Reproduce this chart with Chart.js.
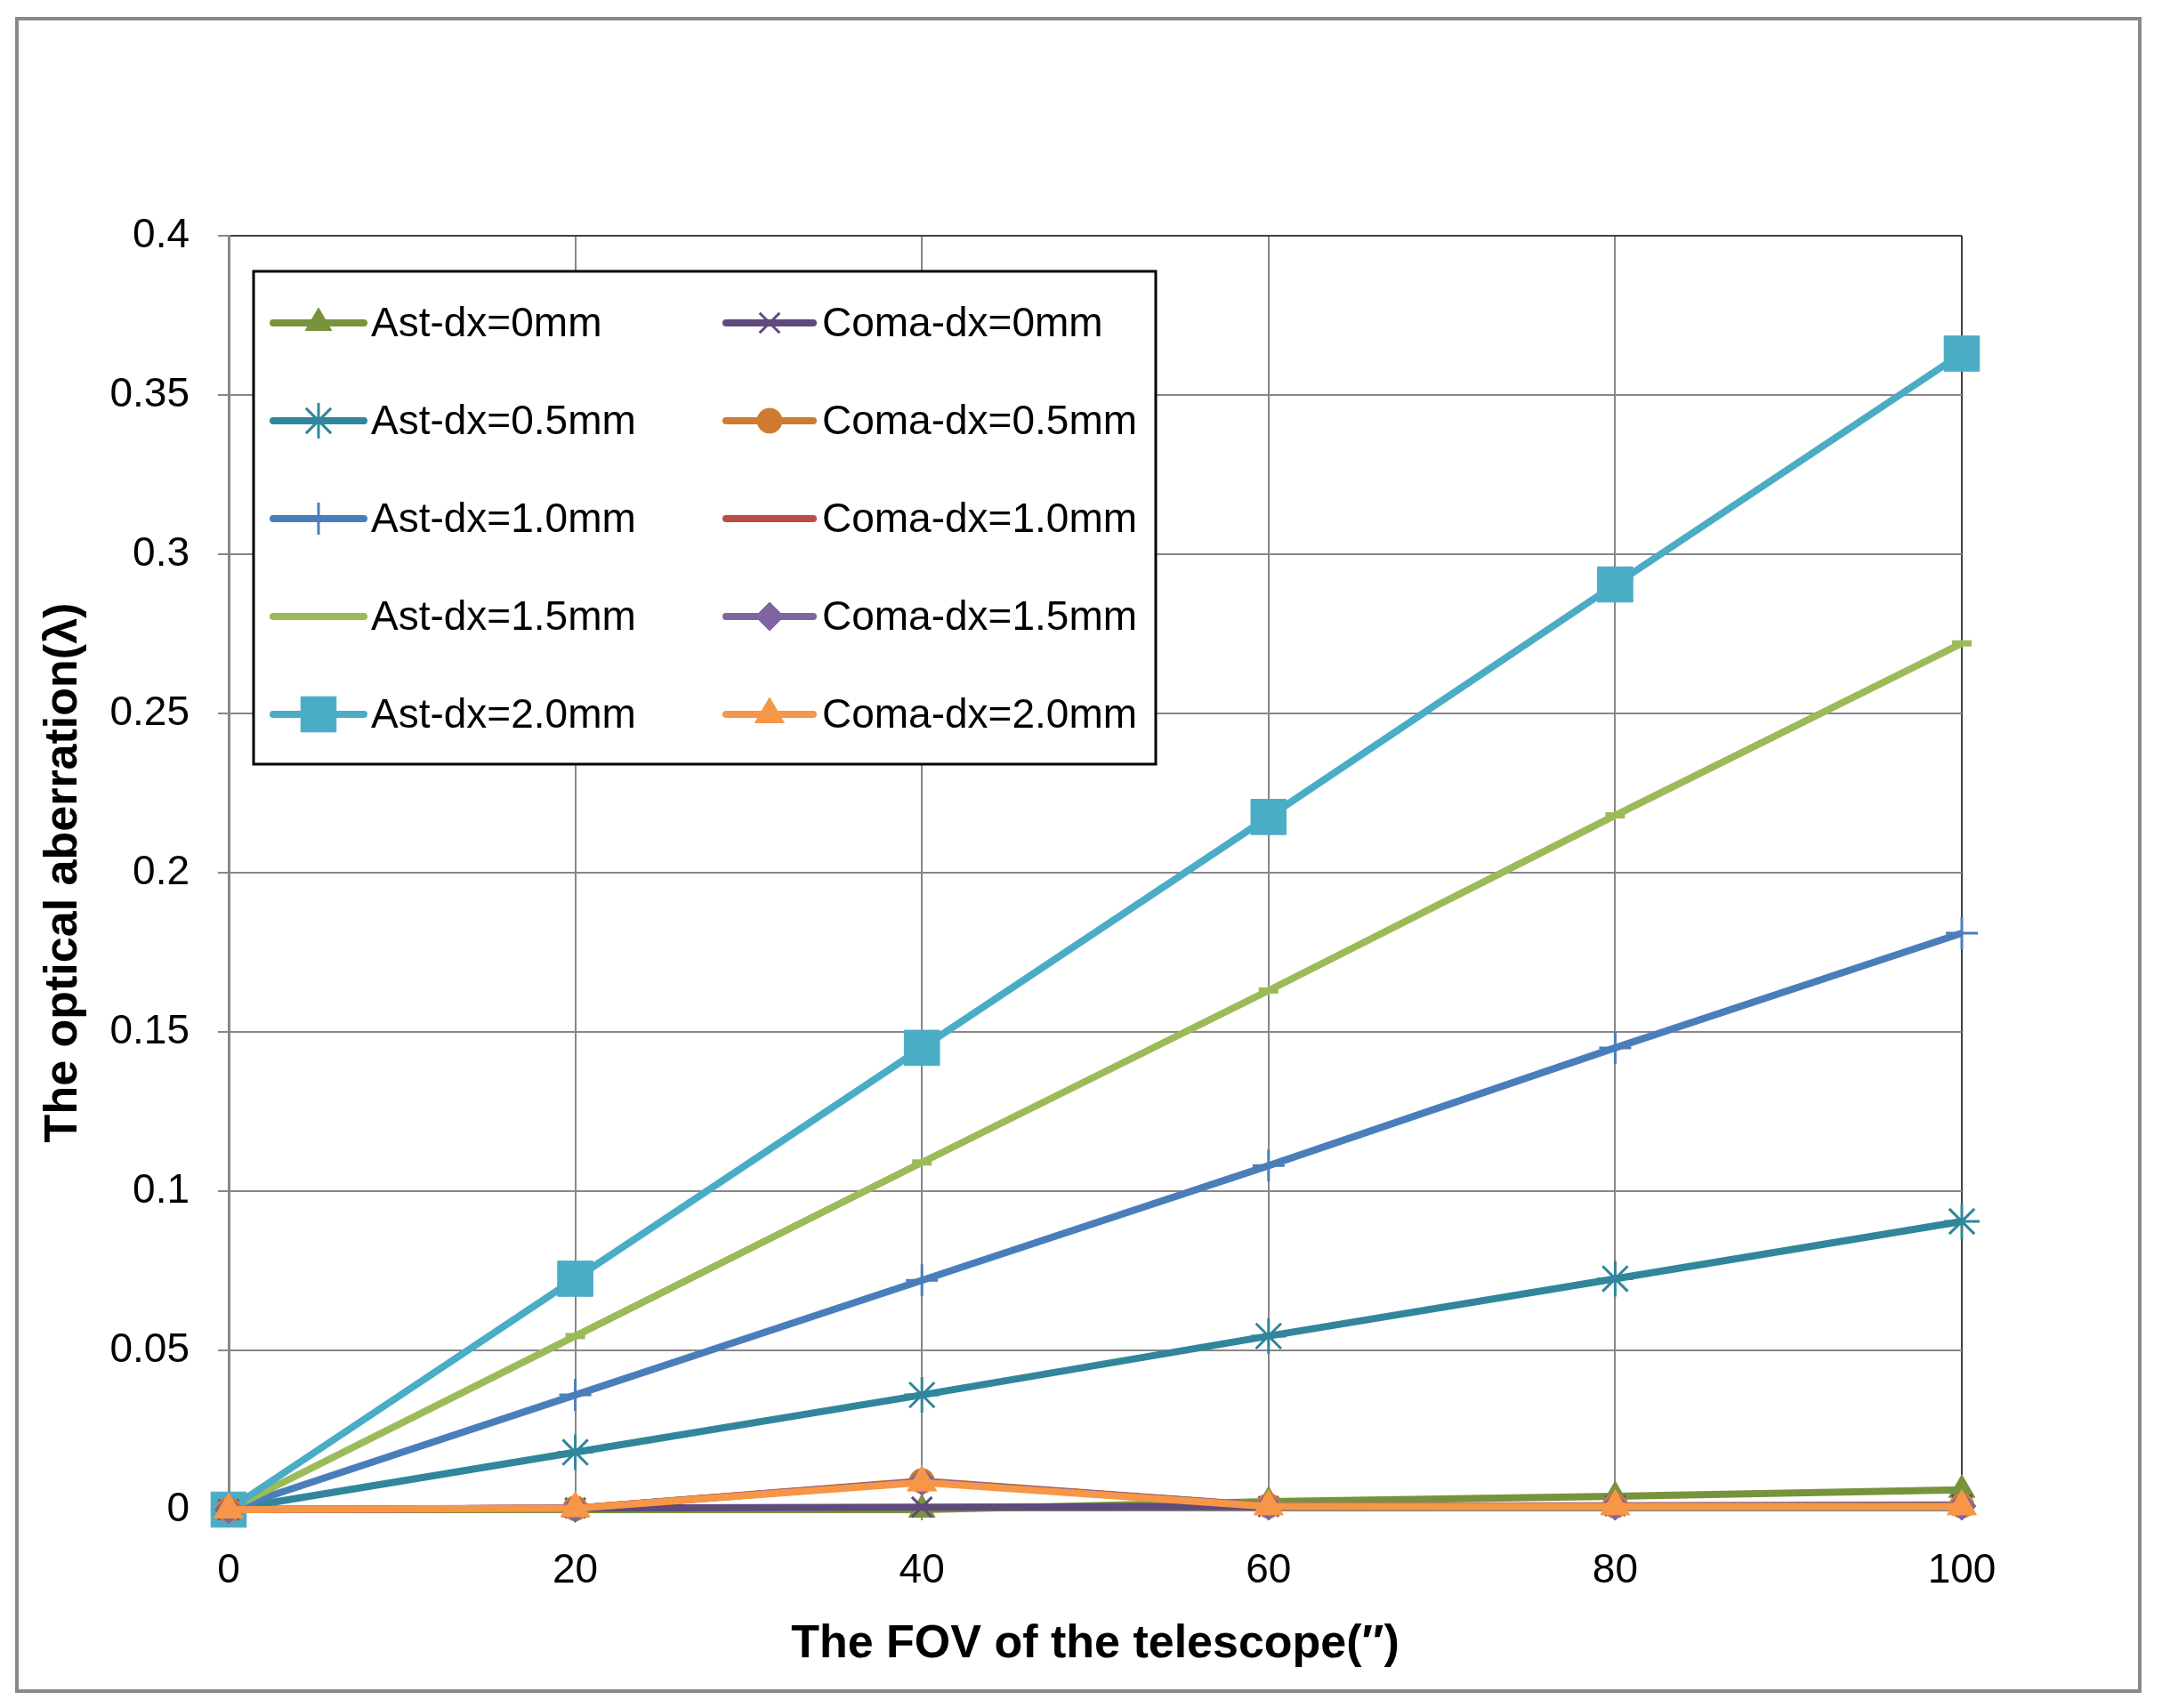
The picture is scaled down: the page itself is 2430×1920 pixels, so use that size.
<!DOCTYPE html>
<html>
<head>
<meta charset="utf-8">
<script src="https://cdn.jsdelivr.net/npm/chart.js@4.4.1/dist/chart.umd.min.js"></script>
<style>
  html, body { margin: 0; padding: 0; background: #fff; }
  #wrap { width: 2430px; height: 1920px; }
</style>
</head>
<body>
<div id="wrap"><canvas id="chart" width="2430" height="1920"></canvas></div>
<script>
// ── Data ─────────────────────────────────────────
const fovValues = [0, 20, 40, 60, 80, 100];
const yTickValues = [0, 0.05, 0.1, 0.15, 0.2, 0.25, 0.3, 0.35, 0.4];

const seriesNames = [
  'Ast-dx=0mm', 'Ast-dx=0.5mm', 'Ast-dx=1.0mm', 'Ast-dx=1.5mm', 'Ast-dx=2.0mm',
  'Coma-dx=0mm', 'Coma-dx=0.5mm', 'Coma-dx=1.0mm', 'Coma-dx=1.5mm', 'Coma-dx=2.0mm'
];

const astDx0  = [0, 0,      0,      0.0025, 0.0042, 0.0062];
const astDx05 = [0, 0.018,  0.036,  0.0545, 0.0725, 0.0905];
const astDx10 = [0, 0.036,  0.072,  0.108,  0.145,  0.181];
const astDx15 = [0, 0.0545, 0.109,  0.163,  0.218,  0.272];
const astDx20 = [0, 0.0725, 0.145,  0.2175, 0.2905, 0.363];

const comaDx0  = [0, 0.0005, 0.0008, 0.001,  0.0012, 0.0015];
const comaDx05 = [0, 0.0004, 0.009,  0.0012, 0.0012, 0.0012];
const comaDx10 = [0, 0.0004, 0.0088, 0.0011, 0.0011, 0.0011];
const comaDx15 = [0, 0.0004, 0.0088, 0.0011, 0.0011, 0.0011];
const comaDx20 = [0, 0.0004, 0.0085, 0.001,  0.001,  0.001];

const seriesValues = [astDx0, astDx05, astDx10, astDx15, astDx20,
                      comaDx0, comaDx05, comaDx10, comaDx15, comaDx20];

// ── Styles ───────────────────────────────────────
const FONT = "'Liberation Sans', Arial, sans-serif";
const styles = [
  { color: '#77933C', point: 'triangle', radius: 17, pw: 1 },
  { color: '#31869B', point: 'star',     radius: 20, pw: 3 },
  { color: '#4A7EBB', point: 'cross',    radius: 18, pw: 3 },
  { color: '#9BBB59', point: 'line',     radius: 11, pw: 7 },
  { color: '#4BACC6', point: 'rect',     radius: 28, pw: 1 },
  { color: '#604A7B', point: 'crossRot', radius: 16, pw: 3 },
  { color: '#D07A30', point: 'circle',   radius: 14, pw: 1 },
  { color: '#BE4B48', point: false,      radius: 0,  pw: 1 },
  { color: '#8064A2', point: 'rectRot',  radius: 16, pw: 1 },
  { color: '#F79646', point: 'triangle', radius: 19, pw: 1 },
];

const datasets = seriesNames.map((name, i) => ({
  label: name,
  data: fovValues.map((x, j) => ({ x: x, y: seriesValues[i][j] })),
  borderColor: styles[i].color,
  backgroundColor: styles[i].color,
  borderWidth: 8,
  pointStyle: styles[i].point,
  pointRadius: styles[i].radius,
  pointBorderWidth: styles[i].pw,
  pointBorderColor: styles[i].color,
  pointBackgroundColor: styles[i].color,
  tension: 0,
  clip: false,
  order: seriesNames.length - i,   // later series on top, like Excel
}));

// ── Plugins ──────────────────────────────────────
const frame = {
  id: 'frame',
  beforeDraw(chart) {
    const ctx = chart.ctx;
    ctx.save();
    ctx.fillStyle = '#fff';
    ctx.fillRect(0, 0, chart.width, chart.height);
    ctx.strokeStyle = '#898989';
    ctx.lineWidth = 4;
    ctx.strokeRect(19, 21, 2386, 1880);
    ctx.restore();
  }
};

// Legend inside the plot, two columns (Ast | Coma)
const boxLegend = {
  id: 'boxLegend',
  afterDraw(chart) {
    const ctx = chart.ctx;
    const box = { x: 285, y: 305, w: 1014, h: 554 };
    ctx.save();
    ctx.fillStyle = '#fff';
    ctx.fillRect(box.x, box.y, box.w, box.h);
    ctx.strokeStyle = '#000';
    ctx.lineWidth = 3;
    ctx.strokeRect(box.x, box.y, box.w, box.h);

    const cols = [{ l0: 307, l1: 409, tx: 417 }, { l0: 816, l1: 914, tx: 924 }];
    const rowY = [363, 473, 583, 693, 803];
    ctx.font = '46px ' + FONT;
    ctx.textBaseline = 'middle';
    ctx.textAlign = 'left';
    chart.data.datasets.forEach((ds, i) => {
      const c = cols[Math.floor(i / 5)];
      const y = rowY[i % 5];
      ctx.strokeStyle = ds.borderColor;
      ctx.lineWidth = 8;
      ctx.lineCap = 'round';
      ctx.beginPath();
      ctx.moveTo(c.l0, y);
      ctx.lineTo(c.l1, y);
      ctx.stroke();
      if (ds.pointStyle) {
        ctx.lineCap = 'butt';
        ctx.fillStyle = ds.pointBackgroundColor;
        ctx.strokeStyle = ds.pointBorderColor;
        ctx.lineWidth = ds.pointBorderWidth;
        Chart.helpers.drawPoint(ctx, {
          pointStyle: ds.pointStyle, rotation: 0,
          radius: ds.pointRadius, borderWidth: ds.pointBorderWidth
        }, (c.l0 + c.l1) / 2, y);
      }
      ctx.fillStyle = '#000';
      ctx.fillText(ds.label, c.tx, y + 2);
    });
    ctx.restore();
  }
};

// ── Chart ────────────────────────────────────────
const gridColor = ctx => (ctx.tick && (ctx.tick.value === 0.4 || ctx.tick.value === 100)) ? '#404040' : '#878787';

new Chart(document.getElementById('chart'), {
  type: 'line',
  data: { datasets: datasets },
  plugins: [frame, boxLegend],
  options: {
    responsive: false,
    animation: false,
    layout: { padding: { left: 20, top: 265, right: 225, bottom: 20 } },
    plugins: { legend: { display: false }, tooltip: { enabled: false } },
    scales: {
      x: {
        type: 'linear', min: 0, max: 100,
        afterBuildTicks: s => { s.ticks = fovValues.map(v => ({ value: v })); },
        afterFit: s => { s.height = 1920 - 20 - 1697; },
        ticks: { color: '#000', padding: 30, font: { family: FONT, size: 46 } },
        grid: { color: gridColor, lineWidth: 2, tickLength: 12, tickColor: '#878787' },
        border: { color: '#878787', width: 3 },
        title: {
          display: true, text: 'The FOV of the telescope(″)', color: '#000',
          font: { family: FONT, size: 52, weight: 'bold' }, padding: { top: 0, bottom: 20 }
        }
      },
      y: {
        type: 'linear', min: 0, max: 0.4,
        afterBuildTicks: s => { s.ticks = yTickValues.map(v => ({ value: v })); },
        afterFit: s => { s.width = 257 - 20; },
        ticks: { color: '#000', padding: 32, font: { family: FONT, size: 46 },
                 callback: v => String(v) },
        grid: { color: gridColor, lineWidth: 2, tickLength: 12, tickColor: '#878787' },
        border: { color: '#878787', width: 3 },
        title: {
          display: true, text: 'The optical aberration(λ)', color: '#000',
          font: { family: FONT, size: 52, weight: 'bold' }, padding: { top: 20, bottom: 0 }
        }
      }
    }
  }
});
</script>
</body>
</html>
